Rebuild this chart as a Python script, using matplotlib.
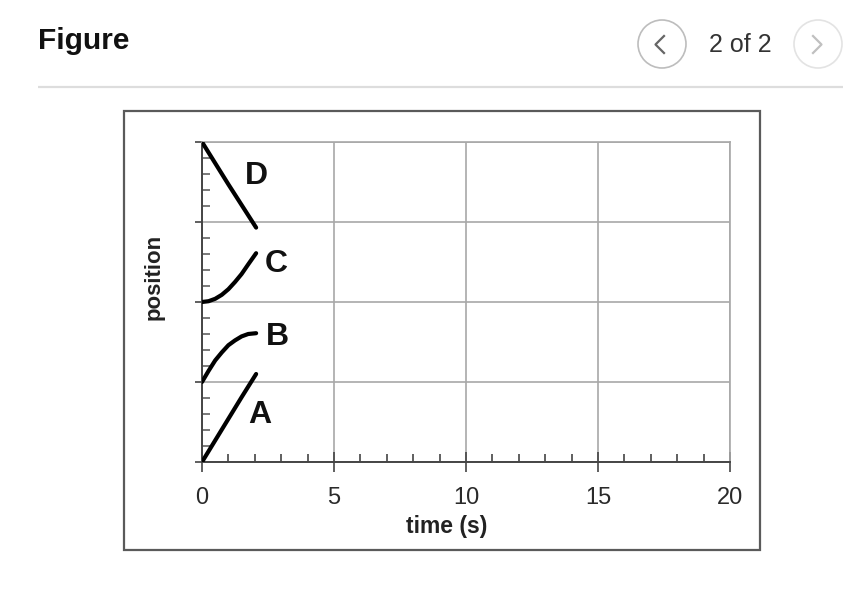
import matplotlib
matplotlib.use("Agg")
import matplotlib.pyplot as plt
from matplotlib.patches import Circle, Rectangle
from matplotlib.ticker import MultipleLocator

plt.rcParams['font.family'] = ['Liberation Sans', 'DejaVu Sans']

# ---- data ----
tA = [0.0, 0.5, 1.0, 1.5, 2.05]
posA = [0.0, 0.27, 0.54, 0.81, 1.10]
tB = [0.0, 0.25, 0.5, 0.75, 1.0, 1.25, 1.5, 1.75, 2.05]
posB = [1.0, 1.14, 1.27, 1.37, 1.46, 1.52, 1.57, 1.60, 1.61]
tC = [0.0, 0.25, 0.5, 0.75, 1.0, 1.25, 1.5, 1.75, 2.05]
posC = [2.0, 2.01, 2.04, 2.09, 2.16, 2.25, 2.35, 2.47, 2.61]
tD = [0.0, 1.0, 2.05]
posD = [4.0, 3.47, 2.93]
curve_names = ['A', 'B', 'C', 'D']
label_x = [2.2, 2.84, 2.8, 2.05]
label_y = [0.59, 1.56, 2.47, 3.58]
xticks = [0, 5, 10, 15, 20]
xtick_labels = ['0', '5', '10', '15', '20']

W, H = 864, 610
fig = plt.figure(figsize=(W / 100, H / 100), dpi=100)
fig.patch.set_facecolor('white')

# overlay in pixel coordinates for the page chrome
ov = fig.add_axes([0, 0, 1, 1])
ov.set_xlim(0, W)
ov.set_ylim(H, 0)
ov.axis('off')
ov.text(38, 49, 'Figure', fontsize=21.5, fontweight='bold', color='#111111',
        ha='left', va='baseline')
ov.plot([38, 843], [87, 87], color='#dddddd', lw=1.6, solid_capstyle='butt')
ov.add_patch(Circle((662, 44), 24, fill=False, ec='#bdbdbd', lw=1.2))
ov.add_patch(Circle((818, 44), 24, fill=False, ec='#e3e3e3', lw=1.2))
ov.plot([664, 655.5, 664], [36, 44.5, 53], color='#666666', lw=1.6)
ov.plot([813, 821.5, 813], [36, 44.5, 53], color='#c0c0c0', lw=1.6)
ov.text(740, 45, '2 of 2', fontsize=18, color='#333333', ha='center', va='center')
ov.add_patch(Rectangle((124, 111), 636, 439, fill=False, ec='#5a5a5a', lw=1.6))

# main plot axes
ax = fig.add_axes([202 / W, (H - 462) / H, (730 - 202) / W, (462 - 142) / H])
ax.set_xlim(0, 20)
ax.set_ylim(0, 4)

for t, p in [(tA, posA), (tB, posB), (tC, posC), (tD, posD)]:
    ax.plot(t, p, color='black', lw=3, solid_capstyle='round', zorder=3)
for name, lx, ly in zip(curve_names, label_x, label_y):
    ax.text(lx, ly, name, fontsize=23, fontweight='bold', ha='center',
            va='center', color='#111111', zorder=4)

ax.set_xticks(xticks)
ax.set_xticklabels(xtick_labels)
ax.xaxis.set_minor_locator(MultipleLocator(1))
ax.set_yticks([0, 1, 2, 3, 4])
ax.yaxis.set_minor_locator(MultipleLocator(0.2))
ax.set_yticklabels([])
ax.grid(True, which='major', color='#a8a8a8', lw=1.2)
ax.set_axisbelow(True)

ax.tick_params(axis='x', which='major', direction='inout', length=14, width=1.2,
               color='#444444', labelsize=17, labelcolor='#2a2a2a', pad=11)
ax.tick_params(axis='x', which='minor', direction='in', length=6, width=1.2,
               color='#444444')
ax.tick_params(axis='y', which='major', direction='out', length=5, width=1.2,
               color='#444444')
ax.tick_params(axis='y', which='minor', direction='in', length=6, width=1.1,
               color='#555555')

for s in ['top', 'right']:
    ax.spines[s].set_color('#a8a8a8')
    ax.spines[s].set_linewidth(1.2)
for s in ['left', 'bottom']:
    ax.spines[s].set_color('#444444')
    ax.spines[s].set_linewidth(1.4)

ax.set_xlabel('time (s)', fontsize=16.5, fontweight='bold', color='#222222', va='center')
ax.xaxis.set_label_coords((447 - 202) / 528, -(526 - 462) / 320)
ax.set_ylabel('position', fontsize=16, fontweight='bold', color='#222222',
              va='center', ha='center')
ax.yaxis.set_label_coords((154 - 202) / 528, (462 - 277) / 320)

fig.savefig('out.png', dpi=100, facecolor='white')
